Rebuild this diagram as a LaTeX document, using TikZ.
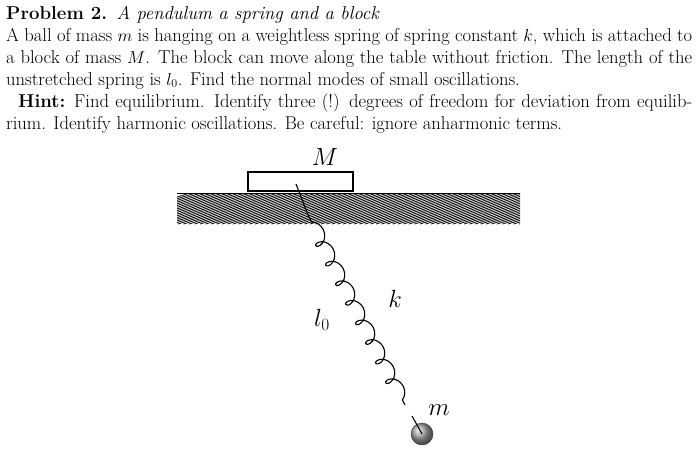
\documentclass[tikz,border=0pt]{standalone}
\usepackage{fontspec}
\usetikzlibrary{decorations.pathmorphing}
\begin{document}
\begin{tikzpicture}[x=1pt,y=-1pt,
  txt/.style={anchor=base west,inner sep=0pt,font=\fontsize{18.6}{20}\selectfont},
  lab/.style={inner sep=0pt,font=\fontsize{24}{26}\selectfont},
  wire/.style={line width=1.1pt}]
\useasboundingbox (0,0) rectangle (700,455);
\node[txt] (l1) at (6,19) {\textbf{Problem 2.}\enspace \textit{A pendulum a spring and a block}};
\node[txt] (l2) at (6,41) {\makebox[686pt][s]{A ball of mass $m$ is hanging on a weightless spring of spring constant $k$, which is attached to}};
\node[txt] (l3) at (6,63) {\makebox[686pt][s]{a block of mass $M$. The block can move along the table without friction. The length of the}};
\node[txt] (l4) at (6,85) {unstretched spring is $l_0$. Find the normal modes of small oscillations.};
\node[txt] (l5) at (6,107) {\makebox[686pt][s]{\hspace*{12pt}\textbf{Hint:} Find equilibrium. Identify three (!) degrees of freedom for deviation from equilib-}};
\node[txt] (l6) at (6,129) {rium. Identify harmonic oscillations. Be careful: ignore anharmonic terms.};
% table hatching
\begin{scope}
\clip (177,193) rectangle (520,224);
\foreach \i in {0,...,90}{
  \draw[line width=0.8pt] ({90+5.5*\i},224) -- ({190+5.5*\i},193);}
\end{scope}
\draw[line width=1pt] (177,193) -- (520,193);
% block
\draw[line width=1.3pt,fill=white] (248,172) rectangle (353,191);
\node[lab] (M) at (325,157) {$M$};
% spring
\coordinate (s0) at (296,184);
\coordinate (s1) at (308,215);
\coordinate (s2) at (405,405);
\coordinate (b0) at (412,416);
\node[circle,minimum size=22pt,inner sep=0pt,ball color=gray!70,draw=black!80] (ball) at (422,434) {};
\draw[wire] (s0) -- (s1);
\draw[wire,decorate,decoration={coil,aspect=0.9,segment length=22pt,amplitude=7pt,pre length=8pt,post length=4pt}] (s1) -- (s2);
\draw[wire] (b0) -- (ball.center);
\node[lab] (k) at (395,299) {$k$};
\node[lab] (l0) at (322,320) {$l_0$};
\node[lab] (m) at (439,410) {$m$};
\end{tikzpicture}
\end{document}
